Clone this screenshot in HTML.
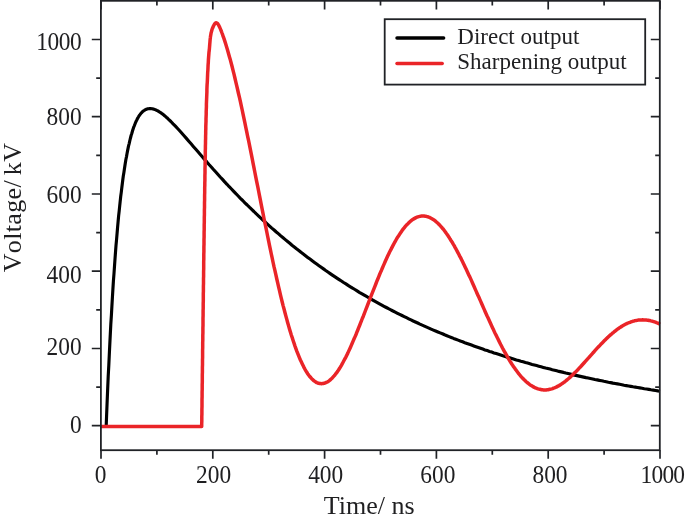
<!DOCTYPE html>
<html><head><meta charset="utf-8"><title>Output voltage</title>
<style>html,body{margin:0;padding:0;background:#fff}svg{display:block}</style></head>
<body>
<svg width="685" height="522" viewBox="0 0 685 522">
<rect width="685" height="522" fill="#fff"/>
<path d="M106.2,425.7 L106.7,412.7 L107.2,400.2 L107.7,388.1 L108.2,376.5 L108.8,365.3 L109.3,354.5 L109.8,344.1 L110.3,334.1 L110.8,324.4 L111.4,315.1 L111.9,306.1 L112.4,297.5 L112.9,289.2 L113.4,281.2 L114.0,273.5 L114.5,266.1 L115.0,259.0 L115.5,252.1 L116.0,245.5 L116.6,239.2 L117.1,233.1 L117.6,227.2 L118.1,221.6 L118.6,216.1 L119.2,210.9 L119.7,205.9 L120.2,201.1 L120.7,196.5 L121.3,192.1 L121.8,187.8 L122.3,183.7 L122.8,179.8 L123.3,176.0 L123.9,172.4 L124.4,169.0 L124.9,165.7 L125.4,162.5 L125.9,159.5 L126.5,156.6 L127.0,153.8 L127.5,151.1 L128.0,148.6 L128.5,146.1 L129.1,143.8 L129.6,141.6 L130.1,139.5 L130.6,137.5 L131.1,135.5 L131.7,133.7 L132.2,132.0 L132.7,130.3 L133.2,128.7 L133.7,127.2 L134.3,125.8 L134.8,124.5 L135.3,123.2 L135.8,122.0 L136.3,120.9 L136.9,119.8 L137.4,118.8 L137.9,117.8 L138.4,117.0 L138.9,116.1 L139.5,115.3 L140.0,114.6 L140.5,113.9 L141.0,113.3 L141.5,112.7 L142.1,112.2 L142.6,111.7 L143.1,111.2 L143.6,110.8 L144.1,110.5 L144.7,110.1 L145.2,109.8 L145.7,109.6 L146.2,109.3 L146.7,109.1 L147.3,109.0 L147.8,108.8 L148.3,108.7 L148.8,108.7 L149.3,108.6 L149.9,108.6 L150.4,108.6 L150.9,108.6 L151.4,108.7 L151.9,108.7 L152.5,108.8 L153.0,109.0 L153.5,109.1 L154.0,109.3 L154.6,109.4 L155.1,109.6 L155.6,109.8 L156.1,110.1 L156.6,110.3 L157.2,110.6 L157.7,110.8 L158.2,111.1 L158.7,111.4 L159.2,111.8 L159.8,112.1 L160.3,112.4 L160.8,112.8 L161.3,113.2 L161.8,113.5 L162.4,113.9 L162.9,114.3 L163.4,114.7 L163.9,115.1 L164.4,115.6 L165.0,116.0 L165.5,116.5 L166.0,116.9 L166.5,117.4 L167.0,117.8 L167.6,118.3 L168.1,118.8 L168.6,119.3 L170.9,121.5 L173.1,123.8 L175.4,126.1 L177.6,128.5 L179.9,131.0 L182.1,133.5 L184.3,136.0 L186.6,138.6 L188.8,141.2 L191.1,143.8 L193.3,146.4 L195.6,149.0 L197.8,151.6 L200.1,154.2 L202.3,156.8 L204.5,159.4 L206.8,161.9 L209.0,164.5 L211.3,167.0 L213.5,169.5 L215.8,172.0 L218.0,174.5 L220.2,177.0 L222.5,179.4 L224.7,181.9 L227.0,184.3 L229.2,186.7 L231.5,189.0 L233.7,191.4 L235.9,193.7 L238.2,196.0 L240.4,198.3 L242.7,200.5 L244.9,202.8 L247.2,205.0 L249.4,207.2 L251.7,209.4 L253.9,211.5 L256.1,213.7 L258.4,215.8 L260.6,217.9 L262.9,220.0 L265.1,222.0 L267.4,224.1 L269.6,226.1 L271.8,228.1 L274.1,230.0 L276.3,232.0 L278.6,233.9 L280.8,235.9 L283.1,237.8 L285.3,239.6 L287.6,241.5 L289.8,243.3 L292.0,245.2 L294.3,247.0 L296.5,248.8 L298.8,250.5 L301.0,252.3 L303.3,254.0 L305.5,255.7 L307.7,257.4 L310.0,259.1 L312.2,260.8 L314.5,262.5 L316.7,264.1 L319.0,265.7 L321.2,267.3 L323.5,268.9 L325.7,270.5 L327.9,272.0 L330.2,273.6 L332.4,275.1 L334.7,276.6 L336.9,278.1 L339.2,279.6 L341.4,281.0 L343.6,282.5 L345.9,283.9 L348.1,285.4 L350.4,286.8 L352.6,288.2 L354.9,289.5 L357.1,290.9 L359.3,292.3 L361.6,293.6 L363.8,294.9 L366.1,296.2 L368.3,297.5 L370.6,298.8 L372.8,300.1 L375.1,301.4 L377.3,302.6 L379.5,303.8 L381.8,305.1 L384.0,306.3 L386.3,307.5 L388.5,308.7 L390.8,309.8 L393.0,311.0 L395.2,312.1 L397.5,313.3 L399.7,314.4 L402.0,315.5 L404.2,316.6 L406.5,317.7 L408.7,318.8 L411.0,319.9 L413.2,321.0 L415.4,322.0 L417.7,323.0 L419.9,324.1 L422.2,325.1 L424.4,326.1 L426.7,327.1 L428.9,328.1 L431.1,329.1 L433.4,330.1 L435.6,331.0 L437.9,332.0 L440.1,332.9 L442.4,333.8 L444.6,334.8 L446.9,335.7 L449.1,336.6 L451.3,337.5 L453.6,338.4 L455.8,339.2 L458.1,340.1 L460.3,341.0 L462.6,341.8 L464.8,342.7 L467.0,343.5 L469.3,344.3 L471.5,345.1 L473.8,345.9 L476.0,346.7 L478.3,347.5 L480.5,348.3 L482.8,349.1 L485.0,349.9 L487.2,350.6 L489.5,351.4 L491.7,352.1 L494.0,352.9 L496.2,353.6 L498.5,354.3 L500.7,355.0 L502.9,355.8 L505.2,356.5 L507.4,357.2 L509.7,357.8 L511.9,358.5 L514.2,359.2 L516.4,359.9 L518.6,360.5 L520.9,361.2 L523.1,361.8 L525.4,362.5 L527.6,363.1 L529.9,363.7 L532.1,364.4 L534.4,365.0 L536.6,365.6 L538.8,366.2 L541.1,366.8 L543.3,367.4 L545.6,368.0 L547.8,368.5 L550.1,369.1 L552.3,369.7 L554.5,370.2 L556.8,370.8 L559.0,371.4 L561.3,371.9 L563.5,372.4 L565.8,373.0 L568.0,373.5 L570.3,374.0 L572.5,374.6 L574.7,375.1 L577.0,375.6 L579.2,376.1 L581.5,376.6 L583.7,377.1 L586.0,377.6 L588.2,378.0 L590.4,378.5 L592.7,379.0 L594.9,379.5 L597.2,379.9 L599.4,380.4 L601.7,380.8 L603.9,381.3 L606.2,381.7 L608.4,382.2 L610.6,382.6 L612.9,383.1 L615.1,383.5 L617.4,383.9 L619.6,384.3 L621.9,384.7 L624.1,385.2 L626.3,385.6 L628.6,386.0 L630.8,386.4 L633.1,386.8 L635.3,387.1 L637.6,387.5 L639.8,387.9 L642.1,388.3 L644.3,388.7 L646.5,389.0 L648.8,389.4 L651.0,389.8 L653.3,390.1 L655.5,390.5 L657.8,390.9 L660.0,391.2" stroke="#000" stroke-width="3.15" fill="none" stroke-linejoin="round"/>
<path d="M101.0,426.4 L201.7,426.4 L201.7,426.4 L201.7,423.9 L201.8,421.5 L201.8,419.0 L201.8,416.6 L201.9,414.1 L201.9,411.6 L201.9,409.2 L202.0,406.7 L202.0,404.3 L202.0,401.8 L202.0,399.4 L202.1,396.9 L202.1,394.4 L202.1,392.0 L202.2,389.5 L202.2,387.1 L202.2,384.6 L202.3,382.1 L202.3,379.7 L202.3,377.2 L202.3,374.8 L202.4,372.3 L202.4,369.8 L202.4,367.4 L202.5,364.9 L202.5,362.5 L202.5,360.0 L202.6,357.5 L202.6,355.1 L202.6,352.6 L202.6,350.2 L202.7,347.7 L202.7,345.3 L202.7,342.8 L202.8,340.3 L202.8,337.9 L202.8,335.4 L202.9,333.0 L202.9,330.5 L202.9,328.0 L203.0,325.6 L203.0,323.1 L203.0,320.7 L203.0,318.2 L203.1,315.7 L203.1,313.3 L203.1,310.8 L203.2,308.4 L203.2,305.9 L203.2,303.4 L203.3,301.0 L203.3,298.5 L203.3,296.1 L203.3,293.6 L203.4,291.2 L203.4,288.7 L203.4,286.2 L203.5,283.8 L203.5,281.3 L203.5,278.9 L203.6,276.4 L203.6,273.9 L203.6,271.5 L203.7,269.0 L203.7,266.6 L203.7,264.1 L203.7,261.6 L203.8,259.2 L203.8,256.7 L203.8,254.3 L203.9,251.8 L203.9,249.3 L203.9,246.9 L204.0,244.4 L204.0,242.0 L204.0,239.5 L204.1,237.1 L204.1,234.6 L204.1,232.1 L204.2,229.7 L204.2,227.2 L204.2,224.8 L204.3,222.3 L204.3,219.8 L204.3,217.4 L204.4,214.9 L204.4,212.5 L204.4,210.0 L204.5,207.5 L204.5,205.1 L204.5,202.6 L204.6,200.2 L204.6,197.7 L204.6,195.2 L204.7,192.8 L204.7,190.3 L204.7,187.9 L204.8,185.4 L204.8,183.0 L204.9,180.5 L204.9,178.0 L204.9,175.6 L205.0,173.1 L205.0,170.7 L205.0,168.2 L205.1,165.7 L205.1,163.3 L205.2,160.8 L205.2,158.4 L205.3,155.9 L205.3,153.4 L205.3,151.0 L205.4,148.5 L205.4,146.1 L205.5,143.6 L205.5,141.1 L205.6,138.7 L205.6,136.2 L205.7,133.8 L205.7,131.3 L205.8,128.9 L205.8,126.4 L205.9,123.9 L206.0,121.5 L206.0,119.0 L206.1,116.6 L206.2,114.1 L206.2,111.6 L206.3,109.2 L206.4,106.7 L206.4,104.3 L206.5,101.8 L206.6,99.3 L206.7,96.9 L206.8,94.4 L206.9,92.0 L206.9,89.5 L207.0,87.0 L207.1,84.6 L207.3,82.1 L207.4,79.7 L207.5,77.2 L207.6,74.8 L207.7,72.3 L207.9,69.8 L208.0,67.4 L208.1,64.9 L208.3,62.5 L208.4,60.0 L209.0,52.0 L209.1,51.4 L209.2,50.8 L209.2,50.2 L209.3,49.6 L209.4,49.0 L209.4,48.4 L209.5,47.7 L209.5,47.1 L209.6,46.5 L209.6,45.9 L209.7,45.3 L209.7,44.6 L209.8,44.0 L209.8,43.4 L209.9,42.8 L209.9,42.2 L210.0,41.5 L210.0,40.9 L210.1,40.3 L210.1,39.7 L210.2,39.0 L210.3,38.4 L210.3,37.8 L210.4,37.2 L210.5,36.5 L210.6,35.9 L210.7,35.3 L210.8,34.7 L210.9,34.1 L211.0,33.5 L211.1,32.9 L211.3,32.3 L211.4,31.7 L211.6,31.1 L211.8,30.5 L211.9,29.9 L212.1,29.3 L212.3,28.7 L212.5,28.2 L212.8,27.6 L213.0,27.0 L213.3,26.5 L213.5,25.9 L213.8,25.4 L214.1,24.8 L214.4,24.3 L214.8,23.7 L215.1,23.3 L215.6,22.9 L216.1,22.8 L216.7,22.9 L217.2,23.2 L217.6,23.6 L218.0,24.1 L218.4,24.7 L218.7,25.3 L219.0,25.9 L219.3,26.5 L219.6,27.1 L219.9,27.7 L220.1,28.2 L220.4,28.8 L220.6,29.4 L220.8,29.9 L221.0,30.5 L221.3,31.0 L221.5,31.6 L221.7,32.1 L221.9,32.7 L222.1,33.3 L222.3,33.8 L222.5,34.4 L222.7,35.0 L222.9,35.6 L223.1,36.2 L223.3,36.8 L223.5,37.4 L223.8,38.0 L224.0,38.6 L224.9,41.4 L225.8,44.3 L226.7,47.2 L227.6,50.3 L228.5,53.5 L229.4,56.7 L230.4,60.1 L231.3,63.5 L232.2,67.0 L233.1,70.6 L234.0,74.2 L234.9,78.0 L235.8,81.8 L236.7,85.6 L237.6,89.5 L238.5,93.5 L239.5,97.6 L240.4,101.7 L241.3,105.8 L242.2,110.0 L243.1,114.3 L244.0,118.6 L244.9,122.9 L245.8,127.3 L246.7,131.7 L247.6,136.1 L248.6,140.6 L249.5,145.1 L250.4,149.6 L251.3,154.2 L252.2,158.7 L253.1,163.3 L254.0,167.9 L254.9,172.5 L255.8,177.1 L256.7,181.7 L257.7,186.4 L258.6,191.0 L259.5,195.6 L260.4,200.2 L261.3,204.8 L262.2,209.4 L263.1,213.9 L264.0,218.5 L264.9,223.0 L265.9,227.5 L266.8,232.0 L267.7,236.5 L268.6,240.9 L269.5,245.3 L270.4,249.6 L271.3,254.0 L272.2,258.2 L273.1,262.5 L274.0,266.7 L275.0,270.8 L275.9,274.9 L276.8,279.0 L277.7,282.9 L278.6,286.9 L279.5,290.7 L280.4,294.6 L281.3,298.3 L282.2,302.0 L283.1,305.6 L284.1,309.2 L285.0,312.7 L285.9,316.1 L286.8,319.4 L287.7,322.7 L288.6,325.9 L289.5,329.0 L290.4,332.1 L291.3,335.0 L292.3,337.9 L293.2,340.7 L294.1,343.4 L295.0,346.1 L295.9,348.6 L296.8,351.1 L297.7,353.4 L298.6,355.7 L299.5,357.9 L300.4,360.0 L301.4,362.1 L302.3,364.0 L303.2,365.8 L304.1,367.6 L305.0,369.3 L305.9,370.8 L306.8,372.3 L307.7,373.7 L308.6,375.0 L309.5,376.2 L310.5,377.3 L311.4,378.3 L312.3,379.3 L313.2,380.1 L314.1,380.9 L315.0,381.5 L315.9,382.1 L316.8,382.6 L317.7,383.0 L318.6,383.3 L319.6,383.5 L320.5,383.6 L321.4,383.7 L322.3,383.6 L323.2,383.5 L324.1,383.3 L325.0,383.0 L325.9,382.6 L326.8,382.2 L327.8,381.7 L328.7,381.1 L329.6,380.4 L330.5,379.6 L331.4,378.8 L332.3,377.9 L333.2,376.9 L334.1,375.9 L335.0,374.8 L335.9,373.6 L336.9,372.4 L337.8,371.1 L338.7,369.7 L339.6,368.3 L340.5,366.8 L341.4,365.3 L342.3,363.7 L343.2,362.0 L344.1,360.3 L345.0,358.6 L346.0,356.8 L346.9,354.9 L347.8,353.1 L348.7,351.1 L349.6,349.2 L350.5,347.2 L351.4,345.1 L352.3,343.0 L353.2,340.9 L354.1,338.8 L355.1,336.6 L356.0,334.5 L356.9,332.2 L357.8,330.0 L358.7,327.7 L359.6,325.5 L360.5,323.2 L361.4,320.9 L362.3,318.5 L363.3,316.2 L364.2,313.9 L365.1,311.5 L366.0,309.2 L366.9,306.8 L367.8,304.5 L368.7,302.1 L369.6,299.8 L370.5,297.4 L371.4,295.1 L372.4,292.7 L373.3,290.4 L374.2,288.1 L375.1,285.8 L376.0,283.5 L376.9,281.2 L377.8,279.0 L378.7,276.8 L379.6,274.5 L380.5,272.4 L381.5,270.2 L382.4,268.0 L383.3,265.9 L384.2,263.9 L385.1,261.8 L386.0,259.8 L386.9,257.8 L387.8,255.8 L388.7,253.9 L389.6,252.0 L390.6,250.2 L391.5,248.4 L392.4,246.6 L393.3,244.9 L394.2,243.2 L395.1,241.6 L396.0,240.0 L396.9,238.4 L397.8,236.9 L398.8,235.5 L399.7,234.1 L400.6,232.7 L401.5,231.4 L402.4,230.1 L403.3,228.9 L404.2,227.8 L405.1,226.7 L406.0,225.6 L406.9,224.6 L407.9,223.7 L408.8,222.8 L409.7,221.9 L410.6,221.2 L411.5,220.4 L412.4,219.7 L413.3,219.1 L414.2,218.6 L415.1,218.1 L416.0,217.6 L417.0,217.2 L417.9,216.9 L418.8,216.6 L419.7,216.4 L420.6,216.2 L421.5,216.1 L422.4,216.0 L423.3,216.0 L424.2,216.1 L425.1,216.2 L426.1,216.3 L427.0,216.6 L427.9,216.8 L428.8,217.2 L429.7,217.5 L430.6,218.0 L431.5,218.5 L432.4,219.0 L433.3,219.6 L434.3,220.2 L435.2,220.9 L436.1,221.7 L437.0,222.5 L437.9,223.3 L438.8,224.2 L439.7,225.1 L440.6,226.1 L441.5,227.1 L442.4,228.2 L443.4,229.3 L444.3,230.5 L445.2,231.7 L446.1,233.0 L447.0,234.2 L447.9,235.6 L448.8,236.9 L449.7,238.4 L450.6,239.8 L451.5,241.3 L452.5,242.8 L453.4,244.4 L454.3,245.9 L455.2,247.6 L456.1,249.2 L457.0,250.9 L457.9,252.6 L458.8,254.3 L459.7,256.1 L460.7,257.9 L461.6,259.7 L462.5,261.5 L463.4,263.4 L464.3,265.3 L465.2,267.2 L466.1,269.1 L467.0,271.0 L467.9,273.0 L468.8,274.9 L469.8,276.9 L470.7,278.9 L471.6,280.9 L472.5,283.0 L473.4,285.0 L474.3,287.0 L475.2,289.1 L476.1,291.1 L477.0,293.2 L477.9,295.2 L478.9,297.3 L479.8,299.4 L480.7,301.4 L481.6,303.5 L482.5,305.5 L483.4,307.6 L484.3,309.6 L485.2,311.7 L486.1,313.7 L487.0,315.8 L488.0,317.8 L488.9,319.8 L489.8,321.8 L490.7,323.8 L491.6,325.7 L492.5,327.7 L493.4,329.6 L494.3,331.6 L495.2,333.5 L496.2,335.4 L497.1,337.2 L498.0,339.1 L498.9,340.9 L499.8,342.7 L500.7,344.5 L501.6,346.2 L502.5,348.0 L503.4,349.7 L504.3,351.3 L505.3,353.0 L506.2,354.6 L507.1,356.2 L508.0,357.8 L508.9,359.3 L509.8,360.8 L510.7,362.3 L511.6,363.7 L512.5,365.1 L513.4,366.4 L514.4,367.8 L515.3,369.1 L516.2,370.3 L517.1,371.5 L518.0,372.7 L518.9,373.9 L519.8,375.0 L520.7,376.1 L521.6,377.1 L522.5,378.1 L523.5,379.0 L524.4,380.0 L525.3,380.8 L526.2,381.7 L527.1,382.5 L528.0,383.2 L528.9,383.9 L529.8,384.6 L530.7,385.2 L531.7,385.8 L532.6,386.4 L533.5,386.9 L534.4,387.4 L535.3,387.8 L536.2,388.2 L537.1,388.5 L538.0,388.9 L538.9,389.1 L539.8,389.3 L540.8,389.5 L541.7,389.7 L542.6,389.8 L543.5,389.9 L544.4,389.9 L545.3,389.9 L546.2,389.9 L547.1,389.8 L548.0,389.7 L548.9,389.5 L549.9,389.3 L550.8,389.1 L551.7,388.9 L552.6,388.6 L553.5,388.2 L554.4,387.9 L555.3,387.5 L556.2,387.1 L557.1,386.6 L558.0,386.1 L559.0,385.6 L559.9,385.1 L560.8,384.5 L561.7,383.9 L562.6,383.3 L563.5,382.6 L564.4,382.0 L565.3,381.3 L566.2,380.5 L567.2,379.8 L568.1,379.0 L569.0,378.2 L569.9,377.4 L570.8,376.6 L571.7,375.7 L572.6,374.9 L573.5,374.0 L574.4,373.1 L575.3,372.2 L576.3,371.3 L577.2,370.3 L578.1,369.4 L579.0,368.4 L579.9,367.4 L580.8,366.5 L581.7,365.5 L582.6,364.5 L583.5,363.5 L584.4,362.5 L585.4,361.4 L586.3,360.4 L587.2,359.4 L588.1,358.4 L589.0,357.4 L589.9,356.3 L590.8,355.3 L591.7,354.3 L592.6,353.3 L593.6,352.3 L594.5,351.2 L595.4,350.2 L596.3,349.2 L597.2,348.2 L598.1,347.2 L599.0,346.3 L599.9,345.3 L600.8,344.3 L601.7,343.4 L602.7,342.4 L603.6,341.5 L604.5,340.6 L605.4,339.7 L606.3,338.8 L607.2,337.9 L608.1,337.1 L609.0,336.2 L609.9,335.4 L610.8,334.6 L611.8,333.8 L612.7,333.0 L613.6,332.3 L614.5,331.5 L615.4,330.8 L616.3,330.1 L617.2,329.4 L618.1,328.8 L619.0,328.1 L619.9,327.5 L620.9,326.9 L621.8,326.4 L622.7,325.8 L623.6,325.3 L624.5,324.8 L625.4,324.3 L626.3,323.8 L627.2,323.4 L628.1,323.0 L629.1,322.6 L630.0,322.3 L630.9,321.9 L631.8,321.6 L632.7,321.3 L633.6,321.1 L634.5,320.8 L635.4,320.6 L636.3,320.4 L637.2,320.3 L638.2,320.1 L639.1,320.0 L640.0,320.0 L640.9,319.9 L641.8,319.9 L642.7,319.8 L643.6,319.9 L644.5,319.9 L645.4,320.0 L646.3,320.1 L647.3,320.2 L648.2,320.3 L649.1,320.5 L650.0,320.6 L650.9,320.9 L651.8,321.1 L652.7,321.3 L653.6,321.6 L654.5,321.9 L655.4,322.2 L656.4,322.6 L657.3,322.9 L658.2,323.3 L659.1,323.7 L660.0,324.2" stroke="#ea2428" stroke-width="3.5" fill="none" stroke-linejoin="round"/>
<path d="M101.0,450.2 v8.6 M101.0,0.8 v8.6 M156.9,450.2 v4.6 M156.9,0.8 v4.6 M212.8,450.2 v8.6 M212.8,0.8 v8.6 M268.7,450.2 v4.6 M268.7,0.8 v4.6 M324.6,450.2 v8.6 M324.6,0.8 v8.6 M380.5,450.2 v4.6 M380.5,0.8 v4.6 M436.4,450.2 v8.6 M436.4,0.8 v8.6 M492.3,450.2 v4.6 M492.3,0.8 v4.6 M548.2,450.2 v8.6 M548.2,0.8 v8.6 M604.1,450.2 v4.6 M604.1,0.8 v4.6 M660.0,450.2 v8.6 M660.0,0.8 v8.6 M101.0,425.7 h-9.2 M660.0,425.7 h-9.2 M101.0,387.1 h-4.8 M660.0,387.1 h-4.8 M101.0,348.5 h-9.2 M660.0,348.5 h-9.2 M101.0,309.8 h-4.8 M660.0,309.8 h-4.8 M101.0,271.2 h-9.2 M660.0,271.2 h-9.2 M101.0,232.6 h-4.8 M660.0,232.6 h-4.8 M101.0,194.0 h-9.2 M660.0,194.0 h-9.2 M101.0,155.4 h-4.8 M660.0,155.4 h-4.8 M101.0,116.7 h-9.2 M660.0,116.7 h-9.2 M101.0,78.1 h-4.8 M660.0,78.1 h-4.8 M101.0,39.5 h-9.2 M660.0,39.5 h-9.2" stroke="#202226" stroke-width="1.7" fill="none"/>
<rect x="100.9" y="0.8" width="558.9" height="449.4" fill="none" stroke="#202226" stroke-width="1.8"/>
<rect x="384.7" y="19.2" width="260.5" height="65.4" fill="#fff" stroke="#202226" stroke-width="1.8"/>
<path d="M397,37.9 H443.6" stroke="#000" stroke-width="3.5" stroke-linecap="round"/>
<path d="M397,63.6 H442.2" stroke="#ea2428" stroke-width="3.5" stroke-linecap="round"/>
<g font-family="'Liberation Serif', serif" fill="#1f1f21">
<text x="457.3" y="43.7" font-size="23">Direct output</text>
<text x="457.3" y="69.3" font-size="23">Sharpening output</text>
<text transform="translate(100.7,483.0) scale(1,1.04)" font-size="23.4" text-anchor="middle">0</text>
<text transform="translate(213.6,483.0) scale(1,1.04)" font-size="23.4" text-anchor="middle">200</text>
<text transform="translate(325.7,483.0) scale(1,1.04)" font-size="23.4" text-anchor="middle">400</text>
<text transform="translate(437.9,483.0) scale(1,1.04)" font-size="23.4" text-anchor="middle">600</text>
<text transform="translate(550.0,483.0) scale(1,1.04)" font-size="23.4" text-anchor="middle">800</text>
<text transform="translate(662.4,483.0) scale(1,1.04)" font-size="23.4" text-anchor="middle" letter-spacing="-0.75">1000</text>
<text transform="translate(81.6,433.4) scale(1,1.04)" font-size="23.4" text-anchor="end">0</text>
<text transform="translate(81.6,355.2) scale(1,1.04)" font-size="23.4" text-anchor="end">200</text>
<text transform="translate(81.6,283.4) scale(1,1.04)" font-size="23.4" text-anchor="end">400</text>
<text transform="translate(81.6,203.1) scale(1,1.04)" font-size="23.4" text-anchor="end">600</text>
<text transform="translate(81.6,124.5) scale(1,1.04)" font-size="23.4" text-anchor="end">800</text>
<text transform="translate(81.1,50.4) scale(1,1.04)" font-size="23.4" text-anchor="end" letter-spacing="-0.5">1000</text>
<text x="369.2" y="513.7" font-size="26" text-anchor="middle">Time/ ns</text>
<text transform="translate(20.6,207.5) rotate(-90)" font-size="26" text-anchor="middle" style="font-kerning:none" letter-spacing="0.35" word-spacing="-2">Voltage/ kV</text>
</g></svg>
</body></html>
